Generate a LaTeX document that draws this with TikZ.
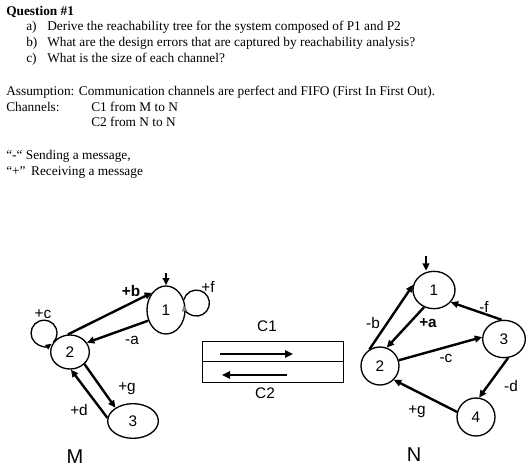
\documentclass[tikz,border=0pt]{standalone}
\usepackage{fontspec}
\setmainfont{Liberation Serif}
\setsansfont{Liberation Sans}
\usetikzlibrary{arrows.meta,shapes.geometric,positioning}

\tikzset{
	txt/.style={anchor=base west, inner sep=0pt, font=\fontsize{10}{12}\selectfont},
	state/.style={draw, ellipse, line width=1pt, inner sep=0pt, font=\sffamily\fontsize{11.5}{13}\selectfont},
	trans/.style={line width=1.8pt, -{Triangle[length=5.5pt,width=5pt]}},
	selfloop/.style={line width=1pt, -{Triangle[length=4.5pt,width=4pt]}},
	lbl/.style={inner sep=0pt, font=\sffamily\fontsize{11.5}{13}\selectfont},
	bigl/.style={inner sep=0pt, font=\sffamily\fontsize{15}{17}\selectfont},
}

\begin{document}
\begin{tikzpicture}[x=0.75pt, y=-0.75pt]
		\useasboundingbox (0,0) rectangle (532,468);

		% question text
		\node[txt] (q) at (6,15) {\textbf{Question \#1}};
		\node[txt] (qa) at (26,30.7) {\makebox[15.75pt][l]{a)}Derive the reachability tree for the system composed of P1 and P2};
		\node[txt] (qb) at (26,46.7) {\makebox[15.75pt][l]{b)}What are the design errors that are captured by reachability analysis?};
		\node[txt] (qc) at (26,62.7) {\makebox[15.75pt][l]{c)}What is the size of each channel?};
		\node[txt] (asm) at (6,95) {Assumption: Communication channels are perfect and FIFO (First In First Out).};
		\node[txt] (ch) at (6,111) {Channels:};
		\node[txt] (ch1) at (91,111) {C1 from M to N};
		\node[txt] (ch2) at (91,126.7) {C2 from N to N};
		\node[txt] (snd) at (6,159.3) {“-“ Sending a message,};
		\node[txt] (rcv) at (6,175) {“+”\, Receiving a message};

		% process M
		\node[state, minimum width=28.5pt, minimum height=36pt] (m1) at (166,310) {1};
		\node[state, minimum width=29pt, minimum height=25.5pt] (m2) at (70,352) {2};
		\node[state, minimum width=38pt, minimum height=26pt] (m3) at (133,421) {3};
		\coordinate (m0) at (166,273);
		\draw[trans] (m0) -- (m1.north);
		\draw[trans] (m2.97) -- (m1.129);
		\draw[trans] (m1.211) -- (m2.29);
		\draw[trans] (m2.-40) -- (m3.143);
		\draw[trans] (m3.173) -- (m2.-87);
		\draw[selfloop] (m2.150) arc[start angle=-45, delta angle=350, radius=9.75pt];
		\draw[selfloop, -{Triangle[length=4.5pt,width=4pt,color=gray]}] (m1.30) arc[start angle=165, delta angle=-335, radius=9.75pt];
		\node[lbl] (lb) at (131,291) {\bfseries +b};
		\node[lbl] (la) at (132,340) {-a};
		\node[lbl] (lg) at (127,389) {+g};
		\node[lbl] (ld) at (79,410) {+d};
		\node[lbl] (lc) at (43,314) {+c};
		\node[lbl] (lf) at (208,287) {+f};
		\node[bigl] (mname) at (75,457) {M};

		% channels
		\node[draw, line width=0.7pt, minimum width=105.75pt, minimum height=30.75pt, inner sep=0pt] (chan) at (272.5,361.5) {};
		\draw[line width=0.7pt] (chan.west) -- (chan.east);
		\coordinate (c1a) at (220,354);
		\coordinate (c1b) at (293,354);
		\coordinate (c2a) at (287,375);
		\coordinate (c2b) at (222,375);
		\draw[line width=2pt, -{Triangle[length=6pt,width=5.5pt]}] (c1a) -- (c1b);
		\draw[line width=2pt, -{Triangle[length=6pt,width=5.5pt]}] (c2a) -- (c2b);
		\node[lbl] (cone) at (267,326) {C1};
		\node[lbl] (ctwo) at (265,393) {C2};

		% process N
		\node[state, minimum width=31.5pt, minimum height=28pt] (n1) at (434,290) {1};
		\node[state, minimum width=28.5pt, minimum height=28.5pt] (n2) at (380,366) {2};
		\node[state, minimum width=32pt, minimum height=28pt] (n3) at (504,339) {3};
		\node[state, minimum width=28.5pt, minimum height=28.5pt] (n4) at (476,417) {4};
		\coordinate (n0) at (426,256);
		\draw[trans] (n0) -- (n0 |- n1.north);
		\draw[trans] (n2.123) -- (n1.166);
		\draw[trans] (n1.240) -- (n2.70);
		\draw[trans] (n2.17) -- (n3.175);
		\draw[trans] (n3.97) -- (n1.-36);
		\draw[trans] (n3.-78) -- (n4.81);
		\draw[trans] (n4.165) -- (n2.-45);
		\node[lbl] (nb) at (373,323) {-b};
		\node[lbl] (na) at (428,323) {\bfseries +a};
		\node[lbl] (nc) at (446,358) {-c};
		\node[lbl] (nf) at (484,307) {-f};
		\node[lbl] (nd) at (511,386) {-d};
		\node[lbl] (ng) at (417,412) {+g};
		\node[bigl] (nname) at (414,455) {N};
	\end{tikzpicture}
\end{document}
